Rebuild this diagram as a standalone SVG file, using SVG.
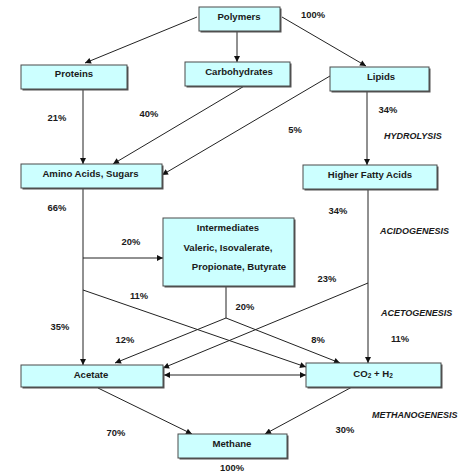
<svg xmlns="http://www.w3.org/2000/svg" width="474" height="474" viewBox="0 0 474 474">
<style>
.box{fill:#CCFFFF;stroke:#4a4a4a;stroke-width:1}
.sh{fill:#555}
.t{font-family:"Liberation Sans",Arial,sans-serif;font-weight:bold;font-size:9.6px;fill:#1a1a1a;text-anchor:middle}
.p{font-family:"Liberation Sans",Arial,sans-serif;font-weight:bold;font-size:9.4px;fill:#1a1a1a;text-anchor:middle}
.st{font-family:"Liberation Sans",Arial,sans-serif;font-weight:bold;font-style:italic;font-size:9px;fill:#1a1a1a}
.c{fill:none;stroke:#222;stroke-width:1}
</style>
<defs>
<marker id="ah" viewBox="0 0 10 10" refX="10" refY="5" markerWidth="7" markerHeight="6" markerUnits="userSpaceOnUse" orient="auto-start-reverse">
<path d="M0,0 L10,5 L0,10 z" fill="#111"/>
</marker>
</defs>
<rect width="474" height="474" fill="#fff"/>

<g id="connectors">
<line class="c" x1="197" y1="17" x2="85" y2="63" marker-end="url(#ah)"/>
<line class="c" x1="237" y1="31" x2="237" y2="62" marker-end="url(#ah)"/>
<line class="c" x1="282" y1="17" x2="366" y2="66" marker-end="url(#ah)"/>
<line class="c" x1="83" y1="89" x2="83" y2="164" marker-end="url(#ah)"/>
<line class="c" x1="246" y1="85" x2="113" y2="164" marker-end="url(#ah)"/>
<line class="c" x1="330" y1="76" x2="162" y2="175" marker-end="url(#ah)"/>
<line class="c" x1="367" y1="91" x2="367" y2="165" marker-end="url(#ah)"/>
<line class="c" x1="83" y1="188" x2="83" y2="365" marker-end="url(#ah)"/>
<line class="c" x1="83" y1="258" x2="163" y2="258" marker-end="url(#ah)"/>
<line class="c" x1="83" y1="290" x2="306" y2="367" marker-end="url(#ah)"/>
<line class="c" x1="368" y1="189" x2="368" y2="363" marker-end="url(#ah)"/>
<line class="c" x1="368" y1="283" x2="163" y2="368" marker-end="url(#ah)"/>
<polyline class="c" points="226,286 226,318 115,363" marker-end="url(#ah)"/>
<line class="c" x1="226" y1="318" x2="340" y2="363" marker-end="url(#ah)"/>
<line class="c" x1="164" y1="375" x2="306" y2="375" marker-start="url(#ah)" marker-end="url(#ah)"/>
<line class="c" x1="98" y1="388" x2="192" y2="434" marker-end="url(#ah)"/>
<line class="c" x1="352" y1="387" x2="265" y2="434" marker-end="url(#ah)"/>
</g>

<g id="polymers">
<rect class="sh" x="200.5" y="8.5" width="81" height="24"/>
<rect class="box" x="199" y="7" width="81" height="24"/>
<text class="t" x="239" y="19.5">Polymers</text>
</g>
<g id="proteins">
<rect class="sh" x="22.5" y="66.5" width="106" height="24"/>
<rect class="box" x="21" y="65" width="106" height="24"/>
<text class="t" x="74" y="76.5">Proteins</text>
</g>
<g id="carbohydrates">
<rect class="sh" x="186.5" y="63.5" width="105" height="24"/>
<rect class="box" x="185" y="62" width="105" height="24"/>
<text class="t" x="239" y="74.5">Carbohydrates</text>
</g>
<g id="lipids">
<rect class="sh" x="331.5" y="68.5" width="99" height="24"/>
<rect class="box" x="330" y="67" width="99" height="24"/>
<text class="t" x="381" y="79.5">Lipids</text>
</g>
<g id="amino">
<rect class="sh" x="22.5" y="165.5" width="141" height="24"/>
<rect class="box" x="21" y="164" width="141" height="24"/>
<text class="t" x="90.5" y="176.5">Amino Acids, Sugars</text>
</g>
<g id="hfa">
<rect class="sh" x="304.5" y="166.5" width="134" height="24"/>
<rect class="box" x="303" y="165" width="134" height="24"/>
<text class="t" x="370" y="177.5">Higher Fatty Acids</text>
</g>
<g id="intermediates">
<rect class="sh" x="164.5" y="219.5" width="131" height="68"/>
<rect class="box" x="163" y="218" width="131" height="68"/>
<text class="t" x="228" y="230.5">Intermediates</text>
<text class="t" x="228" y="250.5">Valeric, Isovalerate,</text>
<text class="t" x="239" y="269.5">Propionate, Butyrate</text>
</g>
<g id="acetate">
<rect class="sh" x="22.5" y="366.5" width="142" height="22"/>
<rect class="box" x="21" y="365" width="142" height="22"/>
<text class="t" x="91" y="377.5">Acetate</text>
</g>
<g id="co2h2">
<rect class="sh" x="307.5" y="364.5" width="135" height="24"/>
<rect class="box" x="306" y="363" width="135" height="24"/>
<text class="t" x="373" y="376.5">CO<tspan font-size="6.5" dy="1.5">2</tspan><tspan dy="-1.5"> + H</tspan><tspan font-size="6.5" dy="1.5">2</tspan></text>
</g>
<g id="methane">
<rect class="sh" x="179.5" y="435.5" width="109" height="24"/>
<rect class="box" x="178" y="434" width="109" height="24"/>
<text class="t" x="232" y="446.5">Methane</text>
</g>

<g id="labels">
<text class="p" x="313" y="17.5">100%</text>
<text class="p" x="57" y="120.5">21%</text>
<text class="p" x="149" y="116.5">40%</text>
<text class="p" x="295" y="132.5">5%</text>
<text class="p" x="388" y="112.5">34%</text>
<text class="st" x="384" y="138.5">HYDROLYSIS</text>
<text class="p" x="57" y="210.5">66%</text>
<text class="p" x="338" y="213.5">34%</text>
<text class="st" x="380" y="233.5">ACIDOGENESIS</text>
<text class="p" x="131" y="244.5">20%</text>
<text class="p" x="327" y="281.5">23%</text>
<text class="p" x="139" y="298.5">11%</text>
<text class="p" x="245" y="309.5">20%</text>
<text class="st" x="381" y="315.5">ACETOGENESIS</text>
<text class="p" x="60" y="329.5">35%</text>
<text class="p" x="125" y="342.5">12%</text>
<text class="p" x="318" y="342.5">8%</text>
<text class="p" x="400" y="341.5">11%</text>
<text class="st" x="372" y="417.5">METHANOGENESIS</text>
<text class="p" x="116" y="435.5">70%</text>
<text class="p" x="345" y="432.5">30%</text>
<text class="p" x="232" y="470.5">100%</text>
</g>
</svg>
